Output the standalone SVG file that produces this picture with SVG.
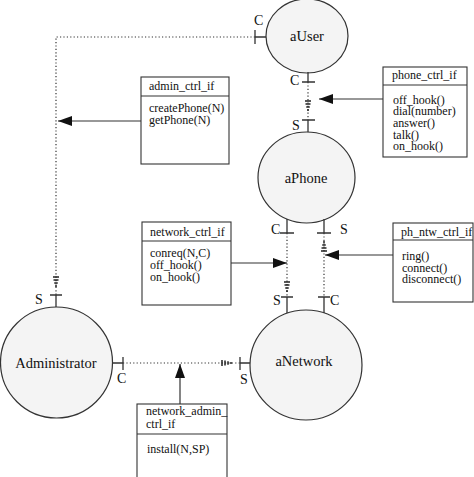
<svg xmlns="http://www.w3.org/2000/svg" xmlns:xlink="http://www.w3.org/1999/xlink" width="474" height="477" viewBox="0 0 474 477">
<style>
.node{fill:#f4f4f4;stroke:#333;stroke-width:1.2}
.box{fill:#fff;stroke:#333;stroke-width:1.1}
.div{stroke:#333;stroke-width:1.1}
.port{stroke:#333;stroke-width:1.3;fill:none}
.dot{stroke:#333;stroke-width:1.2;fill:none;stroke-dasharray:1.2 2.2}
.sol{stroke:#333;stroke-width:1.2;fill:none}
.dh line{stroke:#222;stroke-width:1.5}
text{font-family:"Liberation Serif","DejaVu Serif",serif;fill:#111}
.lbl{font-size:14.5px;text-anchor:middle}
.pl{font-size:14px}
.bt{font-size:12px}
</style>
<defs>
<marker id="ah" markerUnits="userSpaceOnUse" markerWidth="15" markerHeight="11" refX="14" refY="5" orient="auto">
<path d="M0,0 L14,5 L0,10 z" fill="#111"/>
</marker>
<g id="dh" class="dh">
<line x1="-3" y1="-11" x2="3" y2="-11"/>
<line x1="-2.5" y1="-8" x2="2.5" y2="-8"/>
<line x1="-1.75" y1="-5" x2="1.75" y2="-5"/>
<line x1="-1" y1="-2" x2="1" y2="-2"/>
</g>
</defs>

<g id="connectors">
<polyline class="dot" points="255,37 56,37 56,295"/>
<use xlink:href="#dh" href="#dh" transform="translate(56,288)"/>
<line class="dot" x1="308" y1="82" x2="308" y2="120"/>
<use xlink:href="#dh" href="#dh" transform="translate(308,112)"/>
<line class="dot" x1="287" y1="233" x2="287" y2="297"/>
<use xlink:href="#dh" href="#dh" transform="translate(287,293)"/>
<line class="dot" x1="324" y1="233" x2="324" y2="297"/>
<use xlink:href="#dh" href="#dh" transform="translate(324,240) rotate(180)"/>
<line class="dot" x1="123" y1="363" x2="240" y2="363"/>
<use xlink:href="#dh" href="#dh" transform="translate(233,363) rotate(-90)"/>

<line class="sol" x1="141" y1="121" x2="58" y2="121" marker-end="url(#ah)"/>
<line class="sol" x1="383" y1="99" x2="319" y2="99" marker-end="url(#ah)"/>
<line class="sol" x1="231" y1="263" x2="287" y2="263" marker-end="url(#ah)"/>
<line class="sol" x1="393" y1="255" x2="325" y2="255" marker-end="url(#ah)"/>
<line class="sol" x1="180" y1="404" x2="180" y2="364" marker-end="url(#ah)"/>
</g>

<g id="aUser">
<ellipse class="node" cx="307" cy="36" rx="41" ry="37"/>
<text class="lbl" x="307" y="41">aUser</text>
<path class="port" d="M266,37 H255 M255,30 V44"/>
<text class="pl" x="254" y="25">C</text>
<path class="port" d="M308,72 V82 M302,82 H315"/>
<text class="pl" x="290" y="85">C</text>
</g>

<g id="aPhone">
<ellipse class="node" cx="306.5" cy="177.5" rx="48.5" ry="45.5"/>
<text class="lbl" x="306" y="183">aPhone</text>
<path class="port" d="M308,132 V120 M302,120 H315"/>
<text class="pl" x="292" y="130">S</text>
<path class="port" d="M287,219 V233 M280,233 H294"/>
<text class="pl" x="271" y="234">C</text>
<path class="port" d="M324,219 V233 M317,233 H331"/>
<text class="pl" x="340" y="234">S</text>
</g>

<g id="aNetwork">
<ellipse class="node" cx="306" cy="365" rx="56" ry="55"/>
<text class="lbl" x="304" y="366">aNetwork</text>
<path class="port" d="M287,313 V297 M281,297 H293"/>
<text class="pl" x="273" y="305">S</text>
<path class="port" d="M324,313 V297 M318,297 H330"/>
<text class="pl" x="330" y="305">C</text>
<path class="port" d="M250,363 H240 M240,357 V370"/>
<text class="pl" x="240" y="384">S</text>
</g>

<g id="Administrator">
<ellipse class="node" cx="56.5" cy="362.5" rx="56" ry="55.5"/>
<text class="lbl" x="56" y="368">Administrator</text>
<path class="port" d="M56,307 V295 M50,295 H62"/>
<text class="pl" x="35" y="304">S</text>
<path class="port" d="M113,363 H123 M123,357 V370"/>
<text class="pl" x="117" y="383">C</text>
</g>

<g id="admin_ctrl_if">
<rect class="box" x="141" y="77" width="88" height="87"/>
<line class="div" x1="141" y1="96" x2="229" y2="96"/>
<text class="bt" x="149" y="90">admin_ctrl_if</text>
<text class="bt" x="149" y="112">createPhone(N)</text>
<text class="bt" x="149" y="124">getPhone(N)</text>
</g>

<g id="phone_ctrl_if">
<rect class="box" x="383" y="67" width="84" height="90"/>
<line class="div" x1="383" y1="85" x2="467" y2="85"/>
<text class="bt" x="392" y="79">phone_ctrl_if</text>
<text class="bt" x="393" y="103.5">off_hook()</text>
<text class="bt" x="393" y="115.2">dial(number)</text>
<text class="bt" x="393" y="126.9">answer()</text>
<text class="bt" x="393" y="138.6">talk()</text>
<text class="bt" x="393" y="150.3">on_hook()</text>
</g>

<g id="network_ctrl_if">
<rect class="box" x="142" y="222" width="89" height="83"/>
<line class="div" x1="142" y1="241" x2="231" y2="241"/>
<text class="bt" x="150" y="236">network_ctrl_if</text>
<text class="bt" x="150" y="257">conreq(N,C)</text>
<text class="bt" x="150" y="269">off_hook()</text>
<text class="bt" x="150" y="281">on_hook()</text>
</g>

<g id="ph_ntw_ctrl_if">
<rect class="box" x="393" y="223" width="80" height="79"/>
<line class="div" x1="393" y1="240" x2="473" y2="240"/>
<text class="bt" x="401" y="236">ph_ntw_ctrl_if</text>
<text class="bt" x="402" y="260">ring()</text>
<text class="bt" x="402" y="271.5">connect()</text>
<text class="bt" x="402" y="283">disconnect()</text>
</g>

<g id="network_admin_ctrl_if">
<rect class="box" x="137" y="404" width="90" height="76"/>
<line class="div" x1="137" y1="434" x2="227" y2="434"/>
<text class="bt" x="146" y="415">network_admin_</text>
<text class="bt" x="146" y="428">ctrl_if</text>
<text class="bt" x="147" y="453">install(N,SP)</text>
</g>
</svg>
